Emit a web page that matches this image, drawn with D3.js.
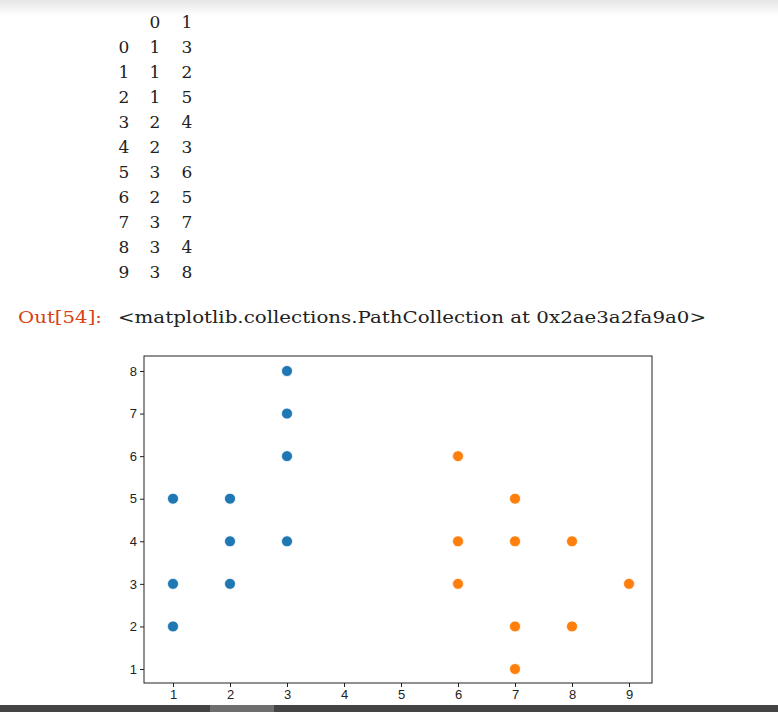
<!DOCTYPE html>
<html><head><meta charset="utf-8">
<script src="https://cdn.jsdelivr.net/npm/d3@7"></script>
<style>body{margin:0;background:#fff;}</style>
</head><body>
<svg id="c" width="778" height="712"></svg>
<script>
const tableIndex = [0,1,2,3,4,5,6,7,8,9];
const col0 = [1,1,1,2,2,3,2,3,3,3];
const col1 = [3,2,5,4,3,6,5,7,4,8];
const orangeX = [6,6,6,7,7,7,7,8,8,9];
const orangeY = [6,4,3,5,4,2,1,4,2,3];
const xTicks = [1,2,3,4,5,6,7,8,9];
const yTicks = [1,2,3,4,5,6,7,8];

const svg = d3.select("#c");
const defs = svg.append("defs");
const g = defs.append("linearGradient").attr("id","sh").attr("x1",0).attr("x2",0).attr("y1",0).attr("y2",1);
g.append("stop").attr("offset",0).attr("stop-color","#e6e6e6");
g.append("stop").attr("offset",1).attr("stop-color","#fff");
svg.append("rect").attr("width",778).attr("height",16).attr("fill","url(#sh)");

const serif = "'DejaVu Serif','Liberation Serif',serif";
const T = svg.append("g").attr("font-family",serif).attr("font-size",17).attr("fill","#222").attr("text-anchor","middle");
T.append("text").attr("x",155).attr("y",28).text("0");
T.append("text").attr("x",187).attr("y",28).text("1");
tableIndex.forEach((d,i)=>{
  const y = 53 + i*25;
  T.append("text").attr("x",124).attr("y",y).text(d);
  T.append("text").attr("x",155).attr("y",y).text(col0[i]);
  T.append("text").attr("x",187).attr("y",y).text(col1[i]);
});
svg.append("text").attr("x",18).attr("y",323).attr("font-family",serif).attr("font-size",17).attr("fill","#d84315")
  .attr("textLength",84).attr("lengthAdjust","spacingAndGlyphs").text("Out[54]:");
svg.append("text").attr("x",118).attr("y",323).attr("font-family",serif).attr("font-size",17).attr("fill","#222")
  .attr("textLength",588).attr("lengthAdjust","spacingAndGlyphs").text("<matplotlib.collections.PathCollection at 0x2ae3a2fa9a0>");

const L=144,R=652,Tp=356,B=683;
const x = d3.scaleLinear().domain([1,9]).range([173,629]);
const y = d3.scaleLinear().domain([1,8]).range([669,371]);
const ax = svg.append("g").attr("font-family","'DejaVu Sans',sans-serif");
ax.append("g").attr("transform",`translate(0,${B})`).call(d3.axisBottom(x).tickValues(xTicks).tickFormat(d3.format("d")).tickSize(4).tickPadding(3))
  .call(s=>{s.select(".domain").remove();s.selectAll("text").attr("font-size",13).attr("fill","#222");s.selectAll("line").attr("stroke","#222");});
ax.append("g").attr("transform",`translate(${L},0)`).call(d3.axisLeft(y).tickValues(yTicks).tickFormat(d3.format("d")).tickSize(4).tickPadding(3))
  .call(s=>{s.select(".domain").remove();s.selectAll("text").attr("font-size",13).attr("fill","#222");s.selectAll("line").attr("stroke","#222");});

const blue = col0.map((d,i)=>[d,col1[i]]);
const orange = orangeX.map((d,i)=>[d,orangeY[i]]);
svg.append("g").selectAll("circle").data(blue).join("circle").attr("cx",d=>x(d[0])).attr("cy",d=>y(d[1])).attr("r",5.5).attr("fill","#1f77b4").attr("stroke","#fff").attr("stroke-width",0.8);
svg.append("g").selectAll("circle").data(orange).join("circle").attr("cx",d=>x(d[0])).attr("cy",d=>y(d[1])).attr("r",5.5).attr("fill","#ff7f0e").attr("stroke","#fff").attr("stroke-width",0.8);
svg.append("rect").attr("x",L).attr("y",Tp).attr("width",R-L).attr("height",B-Tp).attr("fill","none").attr("stroke","#222").attr("stroke-width",1);

svg.append("rect").attr("x",0).attr("y",705).attr("width",778).attr("height",7).attr("fill","#444");
svg.append("rect").attr("x",210).attr("y",705).attr("width",64).attr("height",7).attr("fill","#6e6e6e");
</script></body></html>
